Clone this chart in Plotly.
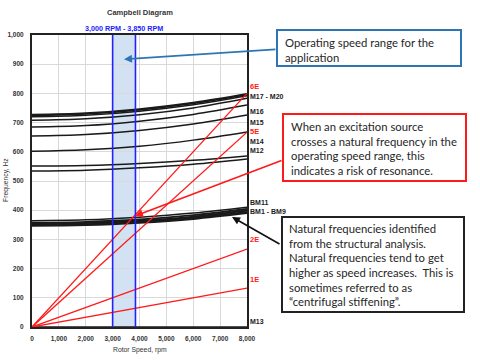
import plotly.graph_objects as go

# ---------------- data ----------------
rpm_points = [0, 2000, 4000, 6000, 8000]

mode_names = ["M17", "M18", "M19", "M20", "M16", "M15", "M14", "M12",
              "BM11", "BM1", "BM2", "BM3", "BM9", "M13"]
mode_freqs = [
    [726, 731, 745, 767, 797],
    [720, 725, 739, 761, 792],
    [708, 713, 727, 750, 783],
    [685, 690, 705, 728, 760],
    [654, 659, 673, 695, 726],
    [602, 607, 619, 640, 668],
    [551, 553, 560, 571, 586],
    [534, 537, 545, 557, 575],
    [364, 367, 376, 390, 410],
    [357, 360, 368, 383, 404],
    [353, 356, 364, 378, 399],
    [350, 352, 360, 374, 394],
    [347, 349, 357, 370, 390],
    [0, 0, 0, 0, 0],
]
mode_widths = [2.4, 1.5, 1.5, 1.5, 1.5, 1.5, 1.5, 1.5, 1.5, 1.9, 1.9, 1.9, 1.9, 1.5]

excitation_names = ["1E", "2E", "5E", "6E"]
excitation_rpm = [0, 8000]
excitation_end_hz = [133, 267, 667, 800]

speed_range = [3000, 3850]

right_labels = ["6E", "M17 - M20", "M16", "M15", "5E", "M14", "M12",
                "BM11", "BM1 - BM9", "2E", "1E", "M13"]
right_label_hz = [823, 789, 737, 699, 668, 635, 606, 425, 394, 298, 164, 18]
right_label_red = [True, False, False, False, True, False, False,
                   False, False, True, True, False]

x_ticks = [0, 1000, 2000, 3000, 4000, 5000, 6000, 7000, 8000]
y_ticks = [0, 100, 200, 300, 400, 500, 600, 700, 800, 900, 1000]

# ---------------- layout geometry ----------------
W, H = 480, 361
L, R, T, B = 32, 247, 35, 327  # plot area in pixels


def px(x):
    return (x - L) / (R - L)


def py(y):
    return (B - y) / (B - T)


FONT = "Liberation Sans"
BOXFONT = "Lato"

fig = go.Figure()

# shaded operating range
fig.add_shape(type="rect", xref="x", yref="y", x0=speed_range[0], x1=speed_range[1],
              y0=0, y1=1000, fillcolor="#d3e2f3", line=dict(width=0), layer="below")

# natural frequencies
for name, f, w in zip(mode_names, mode_freqs, mode_widths):
    fig.add_trace(go.Scatter(x=rpm_points, y=f, mode="lines", name=name,
                             line=dict(color="#1a1a1a", width=w, shape="spline"),
                             showlegend=False, hoverinfo="skip"))

# excitation lines
for name, end in zip(excitation_names, excitation_end_hz):
    fig.add_trace(go.Scatter(x=excitation_rpm, y=[0, end], mode="lines", name=name,
                             line=dict(color="#ff1a1a", width=1.3),
                             showlegend=False, hoverinfo="skip"))

# operating range boundary lines
for s in speed_range:
    fig.add_shape(type="line", xref="x", yref="y", x0=s, x1=s, y0=0, y1=1000,
                  line=dict(color="#2222ff", width=1.6))

annotations = []
# right labels
for lab, hz, red in zip(right_labels, right_label_hz, right_label_red):
    annotations.append(dict(x=8000, y=hz, xref="x", yref="y", text=lab, showarrow=False,
                            xanchor="left", yanchor="middle", xshift=1,
                            font=dict(family=FONT, size=7.5 if red else 7, weight="bold",
                                      color="#ff2020" if red else "#222222")))

# title & range label & axis titles
annotations.append(dict(x=px(140), y=py(12), xref="paper", yref="paper", text="Campbell Diagram",
                        showarrow=False, xanchor="center", yanchor="middle",
                        font=dict(family=FONT, size=7.5, weight="bold", color="#333333")))
annotations.append(dict(x=px(124), y=py(29), xref="paper", yref="paper",
                        text="3,000 RPM - 3,850 RPM", showarrow=False,
                        xanchor="center", yanchor="middle",
                        font=dict(family=FONT, size=7.2, weight="bold", color="#2222ff")))
annotations.append(dict(x=px(140), y=py(350), xref="paper", yref="paper",
                        text="Rotor Speed, rpm", showarrow=False,
                        xanchor="center", yanchor="middle",
                        font=dict(family=FONT, size=6.8, color="#333333")))
annotations.append(dict(x=px(6), y=py(180), xref="paper", yref="paper",
                        text="Frequency, Hz", showarrow=False, textangle=-90,
                        xanchor="center", yanchor="middle",
                        font=dict(family=FONT, size=6.8, color="#333333")))

# boxes
boxes = [
    (277, 30, 461, 66, "#2e75b6",
     "Operating speed range for the<br>application", 283, 34),
    (283, 114, 466, 181, "#ff1a1a",
     "When an excitation source<br>crosses a natural frequency in the<br>operating speed range, this<br>indicates a risk of resonance.",
     289, 118),
    (282, 217, 464, 312, "#222222",
     "Natural frequencies identified<br>from the structural analysis.<br>Natural frequencies tend to get<br>higher as speed increases.  This is<br>sometimes referred to as<br>\u201ccentrifugal stiffening\u201d.",
     287, 220),
]
for x0, y0, x1, y1, col, txt, tx, ty in boxes:
    fig.add_shape(type="rect", xref="paper", yref="paper", x0=px(x0), x1=px(x1),
                  y0=py(y1), y1=py(y0), line=dict(color=col, width=2), fillcolor="white")
    annotations.append(dict(x=px(tx), y=py(ty), xref="paper", yref="paper", text=txt,
                            showarrow=False, xanchor="left", yanchor="top", align="left",
                            font=dict(family=BOXFONT, size=11.3, color="#262626")))

# arrows (head position, tail pixel offset)
arrows = [
    (3423, 917, 153, -10, "#2e75b6"),
    (3833, 380, 148, -56, "#ff1a1a"),
    (7442, 377, 49, 28, "#111111"),
]
for hx, hy, ax, ay, col in arrows:
    annotations.append(dict(x=hx, y=hy, xref="x", yref="y", ax=ax, ay=ay, text="",
                            showarrow=True, arrowhead=2, arrowsize=1, arrowwidth=1.6,
                            arrowcolor=col))

tickfont = dict(family=FONT, size=6.5, weight="bold", color="#333333")
fig.update_layout(
    width=W, height=H,
    margin=dict(l=L, r=W - R, t=T, b=H - B, pad=0, autoexpand=False),
    paper_bgcolor="white", plot_bgcolor="white",
    annotations=annotations,
    xaxis=dict(range=[0, 8000], tickvals=x_ticks, automargin=False,
               ticktext=[f"{v:,}" for v in x_ticks], tickfont=tickfont,
               showgrid=True, gridcolor="#d9d9d9", gridwidth=1,
               showline=True, linecolor="#222222", linewidth=2, mirror=True,
               ticks="", zeroline=False, ticklabelstandoff=4),
    yaxis=dict(range=[0, 1000], tickvals=y_ticks, automargin=False,
               ticktext=[f"{v:,}" for v in y_ticks], tickfont=tickfont,
               showgrid=True, gridcolor="#d9d9d9", gridwidth=1,
               showline=True, linecolor="#222222", linewidth=2, mirror=True,
               ticks="", zeroline=False, ticklabelstandoff=5),
)

fig.write_html("out.html", config={"displayModeBar": False},
               post_script="document.body.style.margin='0';document.body.style.overflow='hidden';")
